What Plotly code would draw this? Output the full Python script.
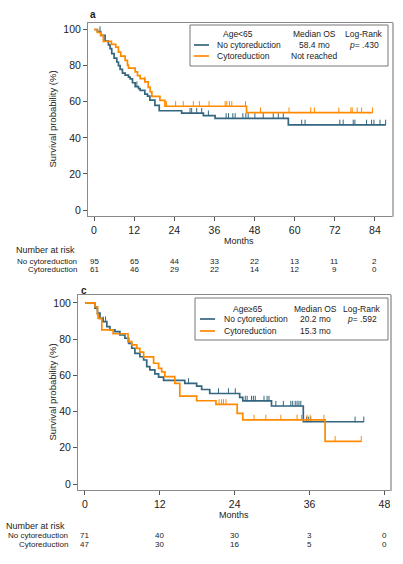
import numpy as np
import plotly.graph_objects as go

W, H = 403, 564
BLUE = "#34667f"
ORANGE = "#ff8a00"
FONT = "Liberation Sans, Arial, sans-serif"

# ---- panel a: age < 65 ----
a_no_t = [0, 1.0, 2.0, 3.3, 4.3, 4.8, 5.3, 6.0, 6.8, 7.3, 7.8, 8.5, 9.3, 10.3, 10.8, 11.5,
          12.3, 13.3, 13.8, 15.2, 16.0, 16.7, 18.2, 19.5, 26.2, 32.7, 36.2, 58.1]
a_no_s = [100, 98.9, 96.8, 93.6, 91.5, 89.4, 86.6, 84.2, 82.0, 80.0, 77.9, 75.8, 74.7, 73.6, 72.6, 70.5,
          68.4, 67.3, 66.3, 64.2, 63.1, 60.9, 58.0, 55.0, 53.7, 52.3, 50.8, 47.2]
a_no_end = 87.2
a_no_cens = [1.8, 12.8, 28.7, 29.2, 30.7, 32.2, 34.2, 39.5, 40.2, 41.5, 42.2, 44.5, 45.4, 46.1, 48.1,
             50.6, 53.6, 55.1, 56.6, 62.1, 63.1, 73.5, 74.5, 77.5, 78.0, 81.5, 83.0, 83.7, 85.5, 87.2]

a_cy_t = [0, 1.0, 2.0, 2.8, 5.2, 6.5, 7.3, 8.0, 9.3, 10.0, 10.3, 12.3, 13.0, 13.8, 15.2, 16.2,
          16.8, 17.3, 19.7, 21.2, 45.6]
a_cy_s = [100, 98.4, 96.7, 93.4, 91.8, 90.2, 87.5, 85.2, 82.9, 80.3, 78.6, 76.5, 74.5, 72.8, 71.0, 67.9,
          65.5, 63.0, 60.7, 57.5, 54.0]
a_cy_end = 83.3
a_cy_cens = [15.2, 21.7, 24.4, 26.7, 29.7, 31.5, 34.4, 39.2, 39.7, 40.5, 41.2, 45.3, 49.8, 58.3,
             64.8, 65.9, 73.2, 76.8, 77.2, 78.7, 80.0, 83.3]

a_ticks = [0, 12, 24, 36, 48, 60, 72, 84]
a_risk_no = [95, 65, 44, 33, 22, 13, 11, 2]
a_risk_cy = [61, 46, 29, 22, 14, 12, 9, 0]

# ---- panel c: age >= 65 ----
c_no_t = [0, 1.6, 2.0, 2.4, 2.9, 3.5, 4.0, 4.8, 5.6, 6.4, 7.0, 7.5, 8.0, 8.8, 9.4, 9.9, 10.4,
          11.2, 11.8, 12.6, 16.0, 17.9, 18.7, 20.0, 24.8, 25.3, 29.9, 35.0]
c_no_s = [100, 97.2, 94.4, 91.5, 89.7, 86.9, 85.1, 84.2, 82.3, 80.5, 77.7, 75.0, 72.2, 70.3, 68.5, 64.8, 63.0,
          60.8, 59.0, 57.3, 55.6, 54.1, 52.2, 50.0, 47.9, 45.9, 43.1, 34.4]
c_no_end = 44.7
c_no_cens = [2.9, 3.3, 16.6, 21.4, 23.0, 24.1, 25.7, 26.0, 26.7, 27.0, 27.3, 28.7, 29.2, 29.5, 30.6,
             31.8, 33.0, 33.3, 33.7, 34.0, 34.3, 34.6, 35.5, 35.8, 36.2, 43.3, 44.7]

c_cy_t = [0, 1.6, 2.0, 2.1, 2.7, 4.5, 6.9, 7.5, 8.3, 8.8, 9.4, 11.0, 11.8, 12.3, 12.8, 14.4, 15.2,
          17.9, 21.0, 24.4, 25.3, 38.5]
c_cy_s = [100, 97.9, 93.6, 91.5, 85.1, 83.0, 78.7, 76.8, 74.9, 72.9, 70.2, 66.7, 63.9, 61.9, 59.3, 55.6, 48.6,
          46.0, 44.0, 39.0, 35.4, 23.6]
c_cy_end = 44.3
c_cy_cens = [21.5, 21.9, 22.2, 22.6, 27.1, 29.0, 31.4, 34.0, 34.7, 35.6, 36.1, 38.3, 40.1, 44.3]

c_ticks = [0, 12, 24, 36, 48]
c_risk_no = [71, 40, 30, 3, 0]
c_risk_cy = [47, 30, 16, 5, 0]


def px(x):
    return x / W


def py(y):
    return 1 - y / H


def step_at(times, surv, t):
    i = np.searchsorted(times, t, side="right") - 1
    return surv[max(i, 0)]


fig = go.Figure()


def add_km(times, surv, end, cens, color, xa, ya):
    xs = list(times) + [end]
    ys = list(surv) + [surv[-1]]
    fig.add_trace(go.Scatter(x=xs, y=ys, mode="lines", line=dict(color=color, width=1.7, shape="hv"),
                             xaxis=xa, yaxis=ya, showlegend=False, hoverinfo="skip"))
    cy = [step_at(times, surv, t) + 1.3 for t in cens]
    fig.add_trace(go.Scatter(x=cens, y=cy, mode="markers",
                             marker=dict(symbol="line-ns", size=4, line=dict(color=color, width=1)),
                             xaxis=xa, yaxis=ya, showlegend=False, hoverinfo="skip"))


add_km(a_no_t, a_no_s, a_no_end, a_no_cens, BLUE, "x", "y")
add_km(a_cy_t, a_cy_s, a_cy_end, a_cy_cens, ORANGE, "x", "y")
add_km(c_no_t, c_no_s, c_no_end, c_no_cens, BLUE, "x2", "y2")
add_km(c_cy_t, c_cy_s, c_cy_end, c_cy_cens, ORANGE, "x2", "y2")

axis_common = dict(showgrid=False, zeroline=False, showline=True, mirror=True, linecolor="#8a8a8a",
                   linewidth=1, ticks="outside", ticklen=4, tickcolor="#555",
                   tickfont=dict(family=FONT, size=10.5, color="#222"))

fig.update_layout(
    width=W, height=H, margin=dict(l=0, r=0, t=0, b=0),
    paper_bgcolor="white", plot_bgcolor="white",
    xaxis=dict(domain=[px(88), px(392)], range=[-1.8, 89.1], tickvals=a_ticks, anchor="y", **axis_common),
    yaxis=dict(domain=[py(216), py(23)], range=[-3.3, 103.6], tickvals=[0, 20, 40, 60, 80, 100],
               anchor="x", **axis_common),
    xaxis2=dict(domain=[px(78), px(390)], range=[-1.12, 48.9], tickvals=c_ticks, anchor="y2", **axis_common),
    yaxis2=dict(domain=[py(490), py(295)], range=[-3.3, 104.4], tickvals=[0, 20, 40, 60, 80, 100],
                anchor="x2", **axis_common),
)

ann = []
shapes = []


def text(x, y, s, size=8.5, anchor="center", xref="paper", bold=False, angle=0):
    ann.append(dict(x=x, y=y, xref=xref, yref="paper", text="<b>%s</b>" % s if bold else s,
                    showarrow=False, xanchor=anchor, yanchor="middle", textangle=angle,
                    font=dict(family=FONT, size=size, color="#222")))


def panel(label, lab_xy, ycenter, months_xy, box, hdr, rows, ticks, risk_no, risk_cy, risk_y, xref):
    text(px(lab_xy[0]), py(lab_xy[1]), label, size=10, anchor="left", bold=True)
    text(px(52), py(ycenter), "Survival probability (%)", size=9.5, angle=-90)
    text(px(months_xy[0]), py(months_xy[1]), "Months", size=9)
    # frame shadow
    x0, y0, x1, y1 = box["plot"]
    shapes.append(dict(type="line", xref="paper", yref="paper", x0=px(x1 + 1), x1=px(x1 + 1),
                       y0=py(y1 + 1), y1=py(y0), line=dict(color="#b5b5b5", width=2)))
    # legend box
    bx0, by0, bx1, by1 = box["legend"]
    shapes.append(dict(type="rect", xref="paper", yref="paper", x0=px(bx0), x1=px(bx1), y0=py(by1), y1=py(by0),
                       line=dict(color="#777", width=1), fillcolor="white"))
    hy, r1y, r2y = hdr["y"]
    text(px(hdr["age_x"]), py(hy), hdr["age"])
    text(px(hdr["med_x"]), py(hy), "Median OS")
    text(px(hdr["lr_x"]), py(hy), "Log-Rank")
    for (name, med, color, ry) in [(rows[0][0], rows[0][1], BLUE, r1y), (rows[1][0], rows[1][1], ORANGE, r2y)]:
        shapes.append(dict(type="line", xref="paper", yref="paper", x0=px(hdr["line_x"][0]), x1=px(hdr["line_x"][1]),
                           y0=py(ry), y1=py(ry), line=dict(color=color, width=1.7)))
        text(px(hdr["name_x"]), py(ry), name, anchor="left")
        text(px(hdr["med_x"]), py(ry), med)
    text(px(hdr["lr_x"]), py(r1y), hdr["p"])
    # number at risk
    ny, n1, n2 = risk_y
    text(px(hdr["nar_x"]), py(ny), "Number at risk", size=9, anchor="left")
    text(px(hdr["rowlab_x"]), py(n1), "No cytoreduction", size=8, anchor="right")
    text(px(hdr["rowlab_x"]), py(n2), "Cytoreduction", size=8, anchor="right")
    for t, a, b in zip(ticks, risk_no, risk_cy):
        text(t, py(n1), str(a), size=8, xref=xref)
        text(t, py(n2), str(b), size=8, xref=xref)


panel("a", (88, 15), 119.5, (239, 241),
      dict(plot=(88, 23, 392, 216), legend=(190, 25, 388, 66)),
      dict(y=(34, 45, 56), age="Age&lt;65", age_x=238, med_x=314, lr_x=364, line_x=(194, 209), name_x=215,
           p="<i>p</i>= .430", nar_x=14, rowlab_x=79),
      [("No cytoreduction", "58.4 mo"), ("Cytoreduction", "Not reached")],
      a_ticks, a_risk_no, a_risk_cy, (250, 261, 269), "x")

panel("c", (79, 290), 392.5, (234, 515),
      dict(plot=(78, 295, 390, 490), legend=(195, 298, 388, 340)),
      dict(y=(309, 319, 331), age="Age≥65", age_x=248, med_x=315, lr_x=362, line_x=(200, 215), name_x=222,
           p="<i>p</i>= .592", nar_x=4, rowlab_x=70),
      [("No cytoreduction", "20.2 mo"), ("Cytoreduction", "15.3 mo")],
      c_ticks, c_risk_no, c_risk_cy, (526, 535, 544), "x2")

fig.update_layout(annotations=ann, shapes=shapes)
fig.write_html("out.html", config={"displayModeBar": False},
               post_script="document.body.style.margin='0';")
